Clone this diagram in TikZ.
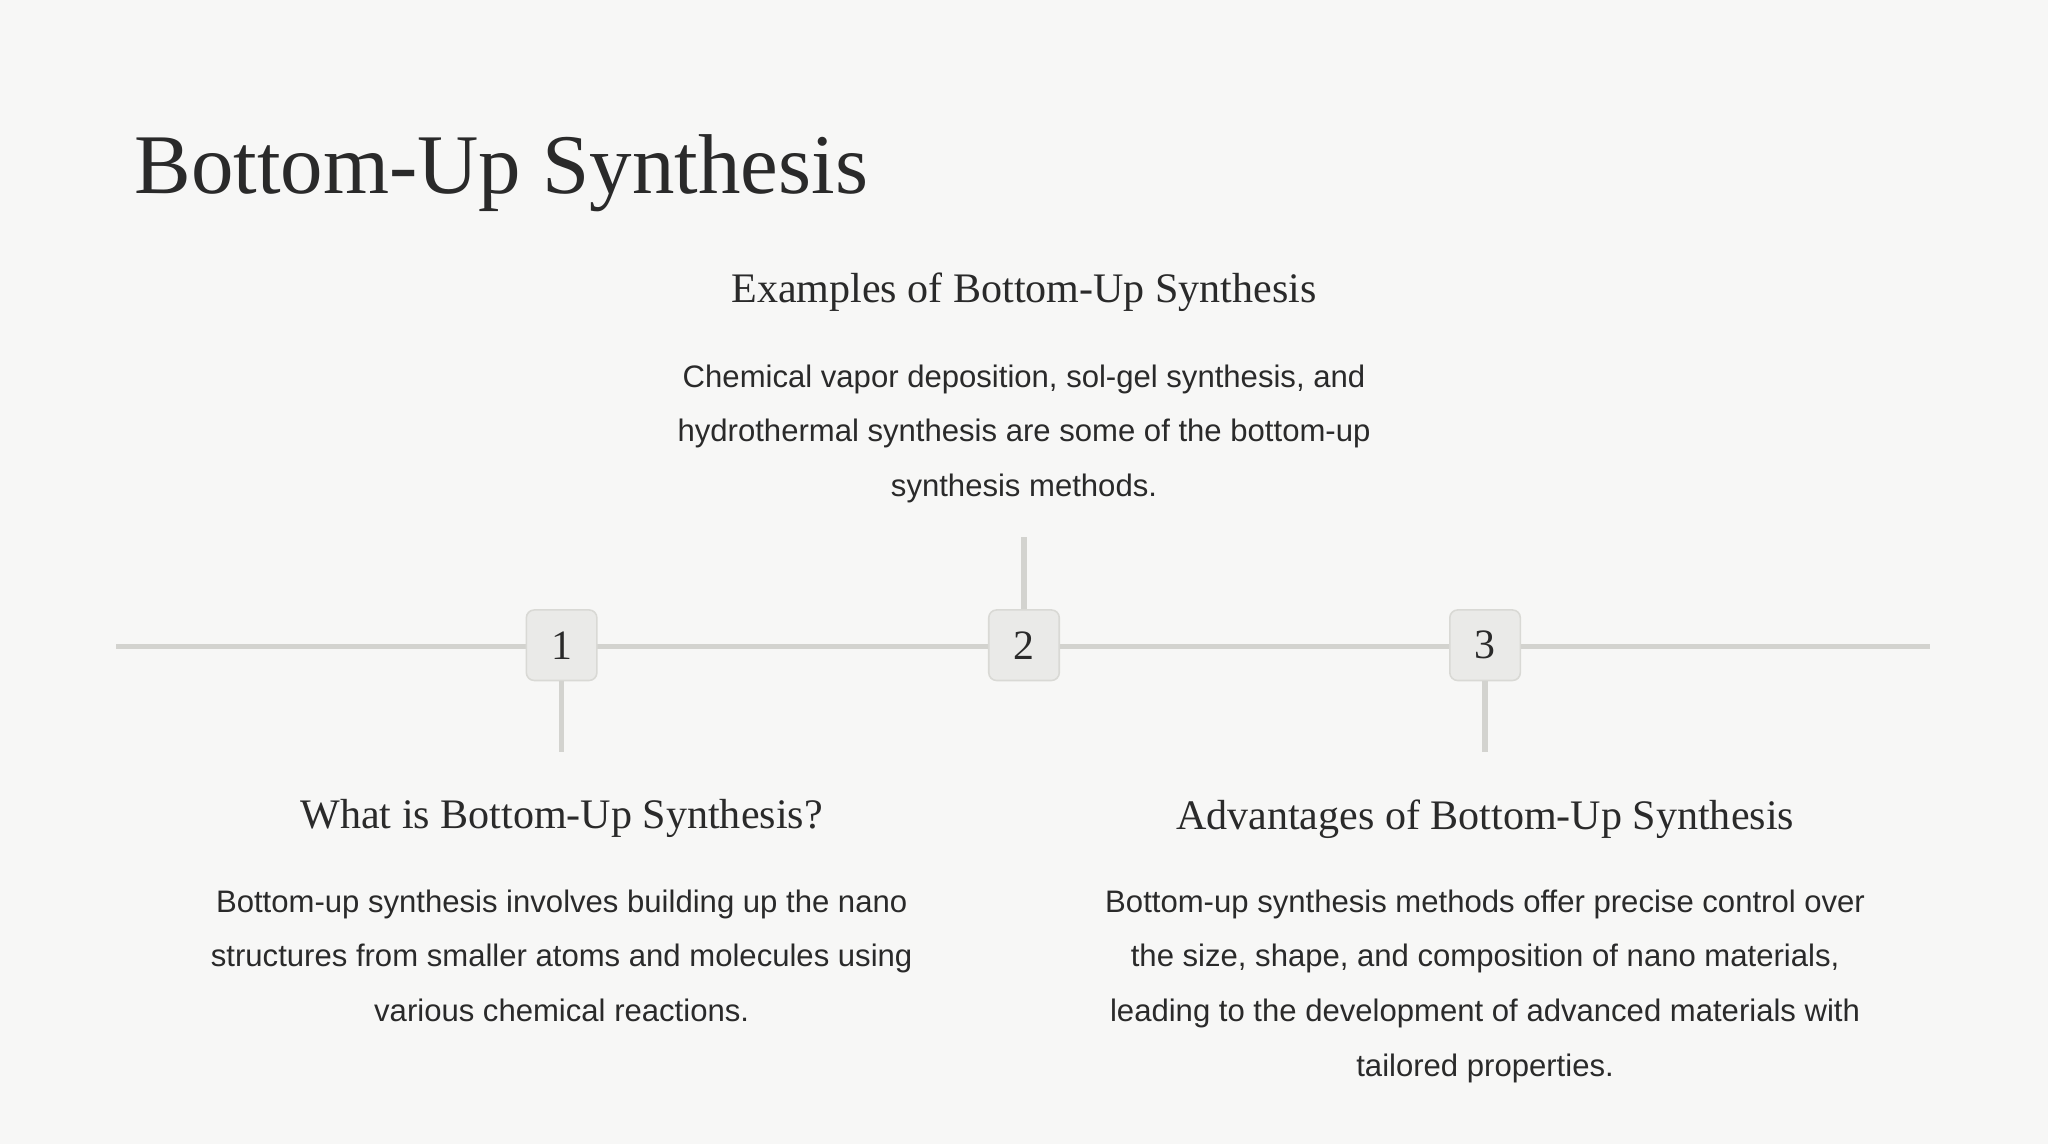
\documentclass[tikz,border=0pt]{standalone}
\usepackage{fontspec}
\setmainfont{Liberation Serif}
\newfontfamily\bodyfont{Liberation Sans}
\definecolor{bg}{HTML}{F7F7F6}
\definecolor{linec}{HTML}{D3D3CF}
\definecolor{boxf}{HTML}{EAEAE8}
\definecolor{boxd}{HTML}{D9D9D5}
\definecolor{txt}{HTML}{2A2A2A}
\begin{document}
\begin{tikzpicture}[x=0.5pt,y=-0.5pt,
  numbox/.style={draw=boxd,fill=boxf,rounded corners=3pt,minimum width=27pt,minimum height=27pt,inner sep=0pt,font=\fontsize{16}{16}\selectfont,text=txt,line width=0.6pt},
  head/.style={font=\fontsize{16.1}{18}\selectfont,text=txt},
  body/.style={font=\bodyfont\fontsize{11.9}{21}\selectfont,text=txt,align=center},
  tline/.style={draw=linec,line width=2pt}]
\fill[bg] (0,0) rectangle (1568,876);
\useasboundingbox (0,0) rectangle (1568,876);
\node[anchor=west,font=\fontsize{32.5}{34}\selectfont,text=txt] (title) at (96,133) {Bottom-Up Synthesis};
\coordinate (L) at (89,495); \coordinate (R) at (1478,495);
\draw[tline] (L) -- (R);
\coordinate (t2) at (784,411); \coordinate (t1) at (430,576); \coordinate (t3) at (1137,576);
\node[numbox] (b1) at (430,494) {1};
\node[numbox] (b2) at (784,494) {2};
\node[numbox] (b3) at (1137,494) {3};
\draw[tline] (b2.north) -- (t2);
\draw[tline] (b1.south) -- (t1);
\draw[tline] (b3.south) -- (t3);
\node[head] (h2) at (784,224) {Examples of Bottom-Up Synthesis};
\node[body,anchor=north] (p2) at (784,272) {Chemical vapor deposition, sol-gel synthesis, and\\hydrothermal synthesis are some of the bottom-up\\synthesis methods.};
\node[head] (h1) at (430,627) {What is Bottom-Up Synthesis?};
\node[body,anchor=north] (p1) at (430,674) {Bottom-up synthesis involves building up the nano\\structures from smaller atoms and molecules using\\various chemical reactions.};
\node[head] (h3) at (1137,627) {Advantages of Bottom-Up Synthesis};
\node[body,anchor=north] (p3) at (1137,674) {Bottom-up synthesis methods offer precise control over\\the size, shape, and composition of nano materials,\\leading to the development of advanced materials with\\tailored properties.};
\end{tikzpicture}
\end{document}
